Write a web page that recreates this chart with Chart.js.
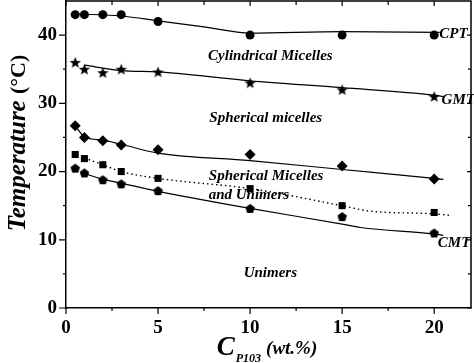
<!DOCTYPE html>
<html>
<head>
<meta charset="utf-8">
<script src="https://cdn.jsdelivr.net/npm/chart.js@4.4.0/dist/chart.umd.min.js"></script>
<style>
  body { margin: 0; background: #fff; }
  #wrap { width: 474px; height: 363px; }
</style>
</head>
<body>
<div id="wrap"><canvas id="phaseChart"></canvas></div>
<script>
// concentrations (wt.%)
const conc = [0.5, 1, 2, 3, 5, 10, 15, 20];

// measured transition temperatures (°C)
const cptValues = [43, 43, 43, 43, 42, 40, 40, 40];
const gmtValues = [36, 35, 34.5, 35, 34.6, 33, 32, 31];
const sphValues = [26.7, 25, 24.5, 23.9, 23.2, 22.5, 20.8, 18.9];
const sqValues = [22.5, 21.9, 21, 20, 19, 17.5, 15, 14];
const cmtValues = [20.5, 19.8, 18.8, 18.2, 17.2, 14.6, 13.4, 11];

// guide lines drawn through the points
const cptFitX = [0.5, 3, 5, 7.5, 10, 15, 20.3];
const cptFitY = [43.1, 42.8, 42.1, 41.2, 40.3, 40.5, 40.4];
const gmtFitX = [1, 3, 5, 10, 15, 20, 20.5];
const gmtFitY = [35.6, 34.8, 34.6, 33.3, 32.3, 31.2, 31.0];
const sphFitX = [0.5, 1, 2, 3, 5, 10, 15, 20, 20.5];
const sphFitY = [26.7, 25.1, 24.6, 24.0, 22.7, 21.6, 20.3, 19.0, 18.85];
const sqFitX = [1, 2, 3, 5, 10, 15, 16.5, 20, 20.8];
const sqFitY = [22.0, 21.0, 20.0, 19.0, 17.5, 15.0, 14.2, 13.8, 13.6];
const cmtFitX = [1, 2, 3, 5, 10, 15, 16, 20, 20.5];
const cmtFitY = [19.7, 18.9, 18.3, 17.1, 14.6, 12.3, 11.8, 10.85, 10.65];

// region / curve labels
const regionLabels = [
    {text: 'Cylindrical Micelles', x: 11.1, y: 36.9, align: 'center'},
    {text: 'Spherical micelles', x: 10.85, y: 27.9, align: 'center'},
    {text: 'Spherical Micelles', x: 10.87, y: 19.4, align: 'center'},
    {text: 'and Unimers', x: 7.75, y: 16.6, align: 'left'},
    {text: 'Unimers', x: 11.1, y: 5.1, align: 'center'},
    {text: 'CPT', x: 20.28, y: 40.1, align: 'left'},
    {text: 'GMT', x: 20.4, y: 30.4, align: 'left'},
    {text: 'CMT', x: 20.2, y: 9.5, align: 'left'}
];

const serif = '"Liberation Serif", "DejaVu Serif", serif';

function toPoints(xs, ys) {
    return xs.map(function (x, i) { return {x: x, y: ys[i]}; });
}

function shapeCanvas(size, drawPath) {
    const c = document.createElement('canvas');
    c.width = size; c.height = size;
    const g = c.getContext('2d');
    g.fillStyle = '#000';
    g.beginPath();
    drawPath(g, size / 2);
    g.closePath();
    g.fill();
    return c;
}

function polygon(g, cx, n, rOut, rIn) {
    const steps = rIn ? n * 2 : n;
    for (let i = 0; i < steps; i++) {
        const r = rIn && i % 2 ? rIn : rOut;
        const a = -Math.PI / 2 + i * Math.PI * 2 / steps;
        const px = cx + r * Math.cos(a), py = cx + 0.5 + r * Math.sin(a);
        if (i === 0) g.moveTo(px, py); else g.lineTo(px, py);
    }
}

const starImg = shapeCanvas(13, function (g, c) { polygon(g, c, 5, 6, 2.6); });
const pentImg = shapeCanvas(11, function (g, c) { polygon(g, c, 5, 5, 0); });

function fitLine(xs, ys, dash) {
    return {
        data: toPoints(xs, ys),
        showLine: true,
        borderColor: '#000',
        borderWidth: dash ? 1.4 : 1.2,
        borderDash: dash || [],
        pointRadius: 0,
        tension: 0.35,
        cubicInterpolationMode: 'monotone'
    };
}

function markers(ys, style, radius) {
    return {
        data: toPoints(conc, ys),
        pointStyle: style,
        pointRadius: radius,
        backgroundColor: '#000',
        borderColor: '#000',
        borderWidth: 0,
        showLine: false
    };
}

// labels, titles, mirrored frame and tick marks
const decorPlugin = {
    id: 'decor',
    afterDraw: function (chart) {
        const ctx = chart.ctx;
        const xs = chart.scales.x, ys = chart.scales.y;
        const a = chart.chartArea;
        ctx.save();
        ctx.strokeStyle = '#000';
        ctx.lineWidth = 1.5;
        // frame top and right
        ctx.beginPath();
        ctx.moveTo(a.left, a.top); ctx.lineTo(a.right, a.top); ctx.lineTo(a.right, a.bottom);
        ctx.stroke();
        ctx.lineWidth = 1.2;
        // x ticks
        for (let v = 0; v <= 20.01; v += 2.5) {
            const px = xs.getPixelForValue(v);
            const major = v % 5 === 0;
            ctx.beginPath();
            ctx.moveTo(px, a.bottom); ctx.lineTo(px, a.bottom + (major ? 6 : 3));
            ctx.moveTo(px, a.top); ctx.lineTo(px, a.top + (major ? 5 : 4));
            ctx.stroke();
        }
        // y ticks
        for (let v = 0; v <= 40; v += 5) {
            const py = ys.getPixelForValue(v);
            const major = v % 10 === 0;
            ctx.beginPath();
            ctx.moveTo(a.left, py); ctx.lineTo(a.left - (major ? 7 : 3), py);
            ctx.moveTo(a.right, py); ctx.lineTo(a.right - (major ? 4 : 3), py);
            ctx.stroke();
        }
        // text labels
        ctx.fillStyle = '#000';
        ctx.font = 'italic bold 15px ' + serif;
        ctx.textBaseline = 'middle';
        regionLabels.forEach(function (l) {
            ctx.textAlign = l.align;
            ctx.fillText(l.text, xs.getPixelForValue(l.x), ys.getPixelForValue(l.y));
        });
        // y title
        ctx.save();
        ctx.translate(19, 143);
        ctx.rotate(-Math.PI / 2);
        ctx.textBaseline = 'middle';
        ctx.textAlign = 'left';
        const f1 = 'italic bold 25px ' + serif, f2 = 'bold 22px ' + serif;
        ctx.font = f1; const w1 = ctx.measureText('Temperature ').width;
        ctx.font = f2; const w2 = ctx.measureText('(°C)').width;
        let sx = -(w1 + w2) / 2;
        ctx.font = f1; ctx.fillText('Temperature ', sx, 0);
        ctx.font = f2; ctx.fillText('(°C)', sx + w1, 0);
        ctx.restore();
        // x title
        ctx.textAlign = 'left';
        ctx.textBaseline = 'alphabetic';
        const fc = 'italic bold 27px ' + serif, fs = 'italic bold 12px ' + serif, fu = 'italic bold 19px ' + serif;
        ctx.font = fc; const wc = ctx.measureText('C').width;
        ctx.font = fs; const wsub = ctx.measureText('P103').width;
        ctx.font = fu; const wu = ctx.measureText('(wt.%)').width;
        let tx = 267 - (wc + wsub + 6 + wu) / 2;
        ctx.font = fc; ctx.fillText('C', tx, 355);
        ctx.font = fs; ctx.fillText('P103', tx + wc + 1, 362);
        ctx.font = fu; ctx.fillText('(wt.%)', tx + wc + wsub + 6, 354);
        ctx.restore();
    }
};

new Chart(document.getElementById('phaseChart'), {
    type: 'scatter',
    data: {
        datasets: [
            fitLine(cptFitX, cptFitY),
            fitLine(gmtFitX, gmtFitY),
            fitLine(sphFitX, sphFitY),
            fitLine(sqFitX, sqFitY, [1.5, 3]),
            fitLine(cmtFitX, cmtFitY),
            markers(cptValues, 'circle', 4.5),
            markers(gmtValues, starImg, 6),
            markers(sphValues, 'rectRot', 5.5),
            markers(sqValues, 'rect', 5),
            markers(cmtValues, pentImg, 5)
        ]
    },
    options: {
        responsive: true,
        maintainAspectRatio: false,
        animation: false,
        layout: {autoPadding: false, padding: {top: 1, right: 3, left: 0, bottom: 0}},
        plugins: {legend: {display: false}, tooltip: {enabled: false}},
        scales: {
            x: {
                type: 'linear', min: 0, max: 22,
                afterFit: function (s) { s.height = 55; s.paddingLeft = 0; s.paddingRight = 0; },
                grid: {display: true, drawOnChartArea: false, drawTicks: false},
                border: {display: true, color: '#000', width: 1.5},
                ticks: {
                    stepSize: 2.5, includeBounds: false, padding: 9, color: '#000',
                    maxRotation: 0, autoSkip: false,
                    font: {family: serif, size: 19, weight: 'bold'},
                    callback: function (v) { return v % 5 === 0 ? v : ''; }
                }
            },
            y: {
                type: 'linear', min: 0, max: 45,
                afterFit: function (s) { s.width = 66; s.paddingTop = 0; s.paddingBottom = 0; },
                grid: {display: true, drawOnChartArea: false, drawTicks: false},
                border: {display: true, color: '#000', width: 1.5},
                ticks: {
                    stepSize: 5, includeBounds: false, padding: 9, color: '#000',
                    font: {family: serif, size: 19, weight: 'bold'},
                    callback: function (v) { return v % 10 === 0 ? v : ''; }
                }
            }
        }
    },
    plugins: [decorPlugin]
});
</script>
</body>
</html>
